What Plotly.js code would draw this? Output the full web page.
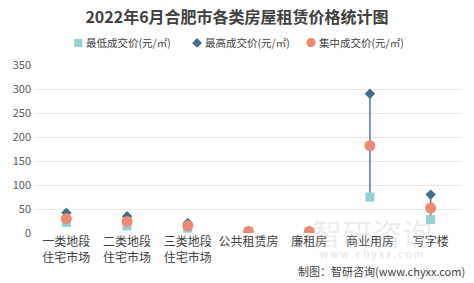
<!DOCTYPE html>
<html><head><meta charset="utf-8">
<script src="https://cdn.plot.ly/plotly-3.0.1.min.js"></script>
<style>html,body{margin:0;padding:0;background:#fff}#c{width:474px;height:283px}</style>
</head><body><div id="c"></div>
<script>
const categories = ["一类地段<br>住宅市场","二类地段<br>住宅市场","三类地段<br>住宅市场","公共租赁房","廉租房","商业用房","写字楼"];
const minPrice = [22, 15, 10, 3, 3, 75, 28];
const maxPrice = [42, 35, 21, 3, 3, 290, 80];
const midPrice = [30, 24, 15, 3, 3, 182, 52];
const seriesNames = ["最低成交价(元/㎡)","最高成交价(元/㎡)","集中成交价(元/㎡)"];
const yTicks = [0,50,100,150,200,250,300,350];

const cMin = "#93d0cf", cMax = "#3f6f8b", cMid = "#ec8a72", cLine = "#4b7b96";
const font = "Noto Sans CJK SC, sans-serif";

const traces = [
  {type:"scatter", mode:"markers", x:categories, y:minPrice, name:seriesNames[0],
   marker:{symbol:"square", size:9, color:cMin},
   error_y:{type:"data", symmetric:false, array:maxPrice.map((v,i)=>v-minPrice[i]), arrayminus:minPrice.map(()=>0), color:cLine, thickness:1.5, width:0}},
  {type:"scatter", mode:"markers", x:categories, y:maxPrice, name:seriesNames[1],
   marker:{symbol:"diamond", size:8, color:cMax}},
  {type:"scatter", mode:"markers", x:categories, y:midPrice, name:seriesNames[2],
   marker:{symbol:"circle", size:11, color:cMid}}
];

const L=35.5,R=12.5,T=65,B=50,W=474,H=283;
const pw=W-L-R, ph=H-T-B;
const px=x=>(x-L)/pw, py=y=>(H-B-y)/ph;

const legendSyms = [["■",cMin,78],["◆",cMax,197],["●",cMid,311]];
const ann = [];
legendSyms.forEach((s,i)=>{
  ann.push({xref:"paper",yref:"paper",x:px(s[2]),y:py(42),showarrow:false,text:s[0],font:{family:font,size:10,color:s[1]},
    xanchor:"center",yanchor:"middle"});
  ann.push({xref:"paper",yref:"paper",x:px(s[2]+6),y:py(42),showarrow:false,text:seriesNames[i],font:{family:font,size:10.5,color:"#404040"},
    xanchor:"left",yanchor:"middle"});
});
ann.push({xref:"paper",yref:"paper",x:px(372),y:py(232),showarrow:false,text:"智研咨询",
  font:{family:font,size:30,color:"rgba(200,200,200,0.35)"},xanchor:"center",yanchor:"middle"});
ann.push({xref:"paper",yref:"paper",x:px(372),y:py(253),showarrow:false,text:"w w w . c h y x x . c o m",
  font:{family:font,size:10,color:"rgba(190,190,190,0.5)"},xanchor:"center",yanchor:"middle"});
ann.push({xref:"paper",yref:"paper",x:px(468),y:py(271),showarrow:false,text:"制图：智研咨询(www.chyxx.com)",
  font:{family:font,size:11,color:"#404040"},xanchor:"right",yanchor:"middle"});

const layout = {
  width:W, height:H, margin:{l:L,r:R,t:T,b:B},
  paper_bgcolor:"#fff", plot_bgcolor:"#fff", showlegend:false,
  title:{text:"<b>2022年6月合肥市各类房屋租赁价格统计图</b>", font:{family:font,size:16,color:"#404040"},
    x:0.5, xanchor:"center", y:1-17/H, yanchor:"middle"},
  xaxis:{type:"category", range:[-0.5,6.5], showgrid:false, zeroline:false, showline:false, ticks:"",
    tickfont:{family:font,size:12,color:"#404040"}},
  yaxis:{range:[0,350], tickvals:yTicks, showgrid:true, gridcolor:"#e6e6e6", gridwidth:1, zeroline:false,
    showline:false, ticks:"", tickfont:{family:font,size:11,color:"#595959"}, ticklabelstandoff:4},
  annotations:ann
};
Plotly.newPlot("c", traces, layout, {staticPlot:true});
</script></body></html>
